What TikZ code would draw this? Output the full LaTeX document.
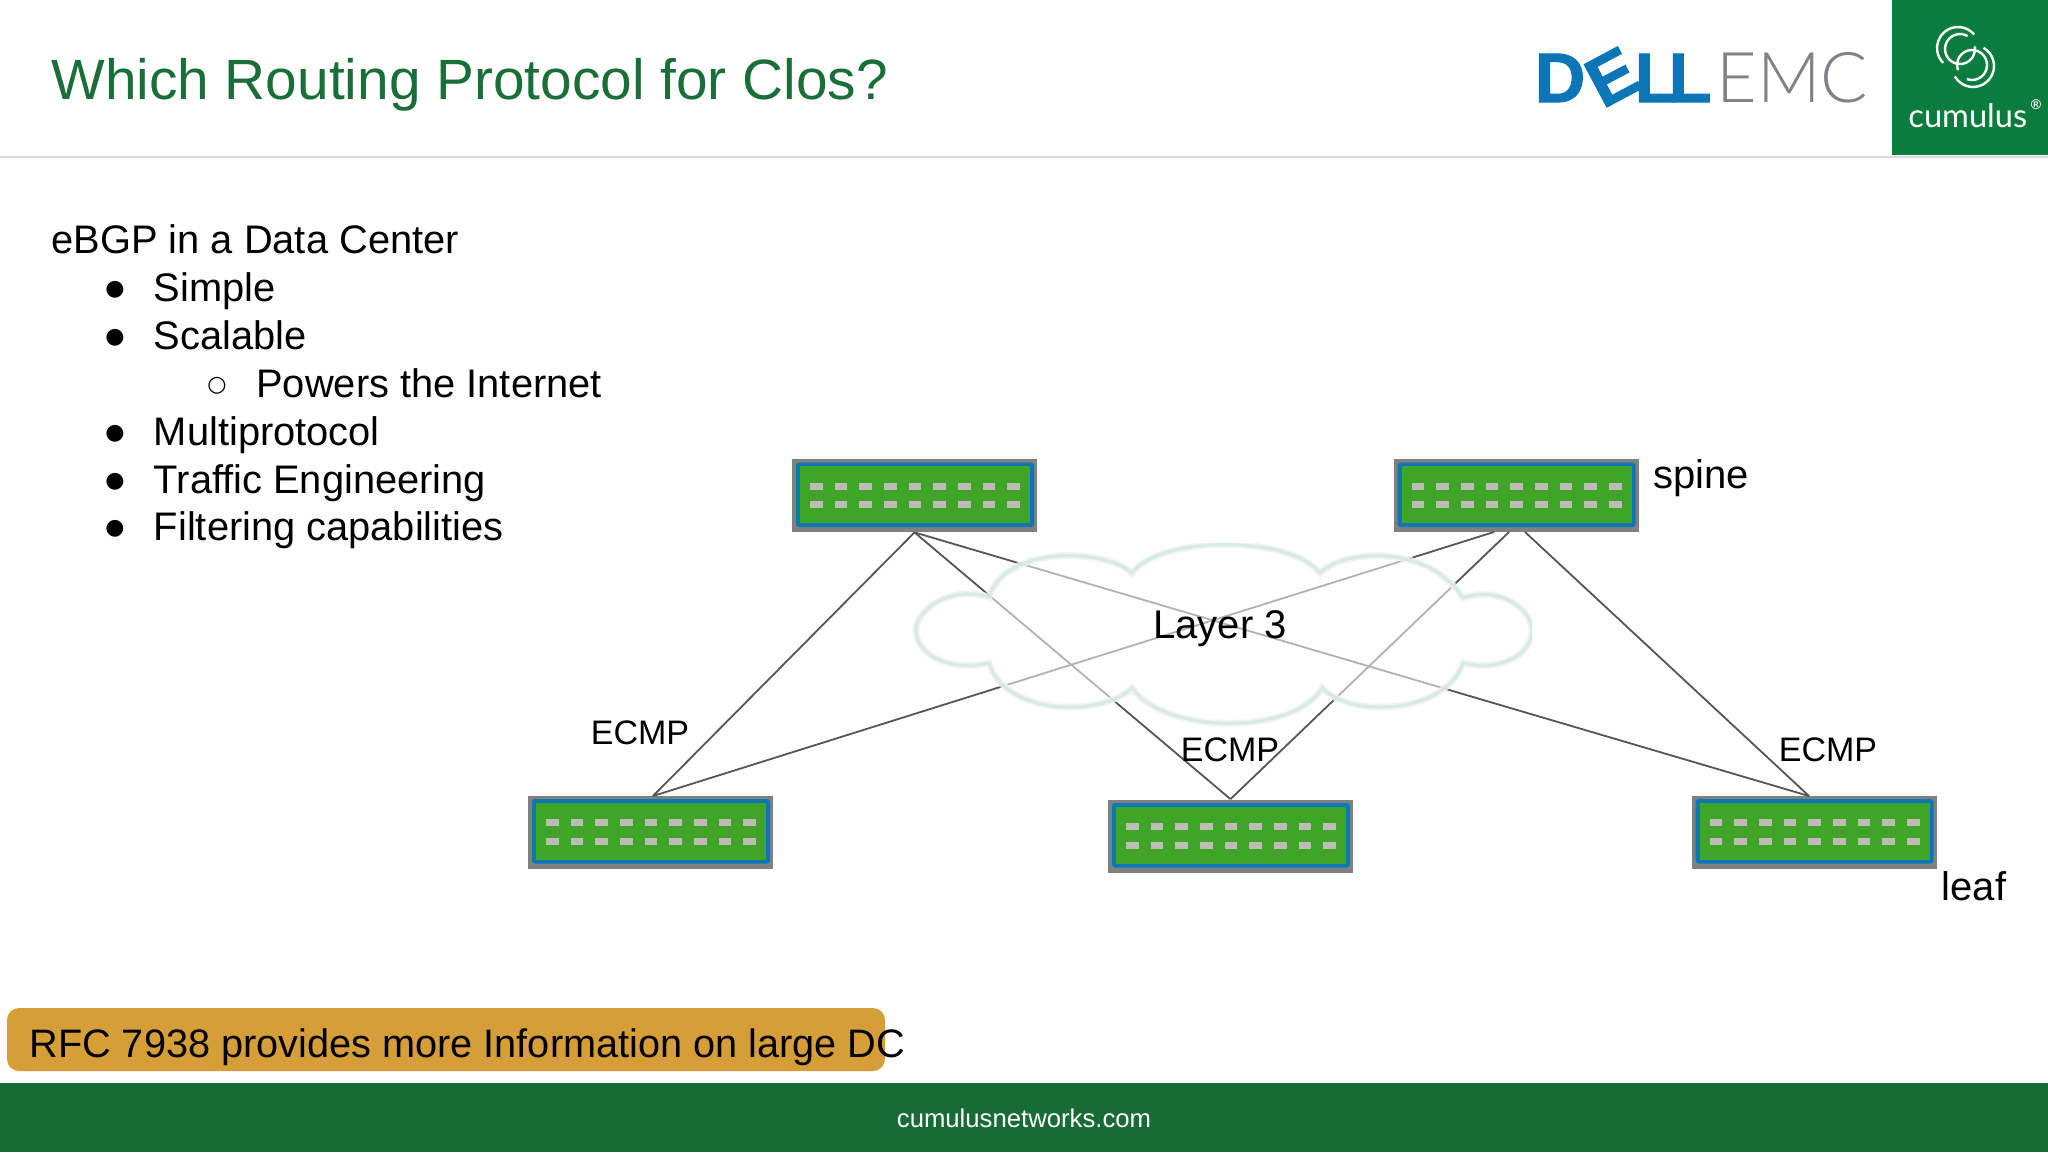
\documentclass[tikz,border=0pt]{standalone}
\usepackage{fontspec}
\setmainfont{Liberation Sans}
\newfontfamily\bulletfont{DejaVu Sans}
\newfontfamily\logofont{Lato Light}
\newfontfamily\cumfont{Lato}
\newfontfamily\dellfont[FakeBold=1.5]{Liberation Sans Bold}
\usepackage{tikz}
\usetikzlibrary{positioning,calc}
\definecolor{titlegreen}{HTML}{1A6E38}
\definecolor{footgreen}{HTML}{176B35}
\definecolor{logogreen}{HTML}{0A7D3E}
\definecolor{delblue}{HTML}{0A76B8}
\definecolor{emcgray}{HTML}{808285}
\definecolor{rulegray}{HTML}{D9D9D9}
\definecolor{goldbox}{HTML}{D69E38}
\definecolor{swgray}{HTML}{808080}
\definecolor{swblue}{HTML}{0A78B4}
\definecolor{swgreen}{HTML}{3FA428}
\definecolor{portgray}{HTML}{BDBDB5}
\definecolor{linkgray}{HTML}{555555}
\definecolor{cloudedge}{HTML}{D5E6E3}
\definecolor{cloudhalo}{HTML}{EAF3F1}
\tikzset{
	bodytext/.style={anchor=base west,font=\fontsize{19.92}{24}\selectfont},
	bullet/.style={anchor=base,yshift=3pt,font=\bulletfont\fontsize{11}{14}\selectfont},
	swbox/.style={fill=swgray,minimum width=122.5pt,minimum height=36.5pt,inner sep=0pt},
	link/.style={linkgray,line width=0.9pt},
	swlabel/.style={font=\fontsize{20}{24}\selectfont},
	ecmp/.style={font=\fontsize{17}{20}\selectfont},
	delltext/.style={delblue,inner sep=0pt,anchor=base,font=\dellfont\fontsize{35}{35}\selectfont},
	ring/.style={white,line width=1.2pt},
}
\newcommand{\swdetail}[1]{
	\fill[swblue,rounded corners=1.5pt] ($(#1)+(-118.5,-33)$) rectangle ($(#1)+(119.5,31.5)$);
	\fill[swgreen] ($(#1)+(-114.5,-29.5)$) rectangle ($(#1)+(115.5,27.5)$);
	\foreach \i in {0,...,8} {
		\fill[portgray] ($(#1)+(-104.5+24.67*\i,-13)$) rectangle +(12.7,7.3);
		\fill[portgray] ($(#1)+(-104.5+24.67*\i,5.8)$) rectangle +(12.7,6.9);
	}
}
\newcommand{\cloudpath}{
	(1132,573) .. controls (1160,535) and (1290,535) .. (1320,573)
	.. controls (1345,548) and (1430,545) .. (1463,598)
	.. controls (1500,585) and (1532,610) .. (1532,630)
	.. controls (1532,655) and (1500,672) .. (1463,663)
	.. controls (1445,715) and (1350,718) .. (1322,688)
	.. controls (1295,735) and (1165,735) .. (1132,688)
	.. controls (1100,718) and (1005,715) .. (989,663)
	.. controls (950,672) and (916,655) .. (916,630)
	.. controls (916,610) and (950,585) .. (989,597)
	.. controls (1005,545) and (1105,548) .. (1132,573) -- cycle
}
\begin{document}
\begin{tikzpicture}[x=0.5pt,y=-0.5pt]
	\useasboundingbox (0,0) rectangle (2048,1152);
	\fill[white] (0,0) rectangle (2048,1152);

	\draw[rulegray,line width=1pt] (0,157) -- (2048,157);
	\node[anchor=base west,inner sep=0pt,titlegreen,font=\fontsize{28.4}{32}\selectfont] (title) at (51,99) {Which Routing Protocol for Clos?};

	\node[delltext] (dellD) at (1560,102) {D};
	\node[delltext,rotate=28,anchor=center] (dellE) at (1612,77) {E};
	\node[delltext] (dellLa) at (1656,102) {L};
	\node[delltext] (dellLb) at (1690,102) {L};
	\node[emcgray,inner sep=0pt,anchor=base west,font=\logofont\fontsize{35}{35}\selectfont] (emc) at (1716,102) {EMC};

	\fill[logogreen] (1892,0) rectangle (2048,155);
	\draw[ring] (1958,48) ++(-40:21) arc (-40:-225:21);
	\draw[ring] (1973,66) ++(-60:21) arc (-60:150:21);
	\draw[ring] (1960,49) ++(-60:15) arc (-60:-370:15);
	\draw[ring] (1972,65) ++(-250:15) arc (-250:-560:15);
	\node[white,inner sep=0pt,anchor=base west,font=\cumfont\fontsize{16.3}{20}\selectfont] (cumulus) at (1908,127) {cumulus};
	\node[white,inner sep=0pt,font=\bfseries\fontsize{7}{8}\selectfont] (regmark) at (2036,105) {®};

	\node[bodytext,inner sep=0pt] (intro) at (51,253) {eBGP in a Data Center};
	\foreach \name/\py/\txt in {simple/301/Simple,scalable/349/Scalable,multi/445/Multiprotocol,traffic/493/Traffic Engineering,filter/540/Filtering capabilities} {
		\node[bullet,inner sep=0pt] (\name b) at (115,\py) {●};
		\node[bodytext,inner sep=0pt] (\name) at (153.5,\py) {\txt};
	}
	\node[bullet,inner sep=0pt] (powersb) at (217,397) {○};
	\node[bodytext,inner sep=0pt] (powers) at (256,397) {Powers the Internet};

	\foreach \name/\px/\py in {spinea/914.5/495.5,spineb/1516/495.5,leafa/650.5/832,leafb/1230.5/836,leafc/1814/832} {
		\node[swbox] (\name) at (\px,\py) {};
		\swdetail{\name}
	}

	\coordinate (ba) at (1494,532);
	\coordinate (bb) at (1509,532);
	\coordinate (bc) at (1525,532);
	\coordinate (la) at (653,796);
	\coordinate (lc) at (1809,796);
	\draw[link] (spinea.south) -- (la);
	\draw[link] (spinea.south) -- (leafb.north);
	\draw[link] (spinea.south) -- (lc);
	\draw[link] (ba) -- (la);
	\draw[link] (bb) -- (leafb.north);
	\draw[link] (bc) -- (lc);

	\begin{scope}
		\clip (900,543) rectangle (1532,740);
		\fill[white,fill opacity=0.55] \cloudpath;
		\draw[cloudhalo,line width=3.4pt,draw opacity=0.8] \cloudpath;
		\draw[cloudedge,line width=1.6pt,draw opacity=0.8] \cloudpath;
	\end{scope}

	\node[swlabel,inner sep=0pt] (cloudlabel) at (1220,629) {Layer 3};
	\node[swlabel,anchor=west,inner sep=0pt] (spinelabel) at (1653,478) {spine};
	\node[swlabel,inner sep=0pt] (leaflabel) at (1974,886) {leaf};
	\node[ecmp,inner sep=0pt] (ecmpa) at (640,733) {ECMP};
	\node[ecmp,inner sep=0pt] (ecmpb) at (1230,750) {ECMP};
	\node[ecmp,inner sep=0pt] (ecmpc) at (1828,750) {ECMP};

	\fill[goldbox,rounded corners=6pt] (7,1008) rectangle (885,1071);
	\node[bodytext,inner sep=0pt,font=\fontsize{19.85}{24}\selectfont] (rfc) at (29,1057) {RFC 7938 provides more Information on large DC};

	\fill[footgreen] (0,1083) rectangle (2048,1152);
	\node[white,inner sep=0pt,font=\fontsize{12.85}{16}\selectfont] (site) at (1024,1118) {cumulusnetworks.com};
\end{tikzpicture}
\end{document}
